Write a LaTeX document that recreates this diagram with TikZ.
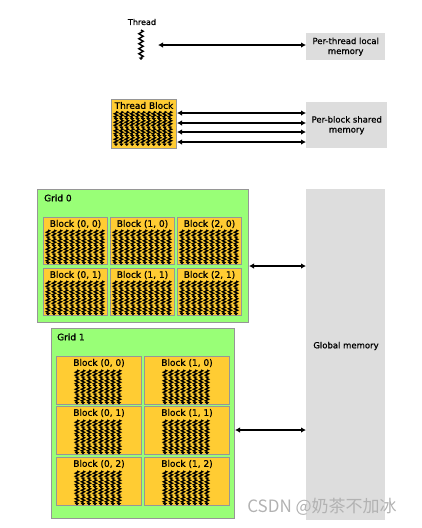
\documentclass[tikz,border=0pt]{standalone}
\usepackage{fontspec}
\setmainfont{DejaVu Sans}[FakeBold=0.8]
\newfontfamily\cjkfont{Noto Sans CJK SC}
\usetikzlibrary{arrows.meta,decorations.pathmorphing}

\definecolor{blockorange}{RGB}{255,204,51}
\definecolor{gridgreen}{RGB}{153,255,119}
\definecolor{memgray}{RGB}{221,221,221}
\definecolor{edgegray}{RGB}{150,150,150}

\tikzset{
  blockbox/.style={draw=edgegray,fill=blockorange,line width=1pt,anchor=north west,inner sep=0pt},
  gridbox/.style={draw=edgegray,fill=gridgreen,line width=1pt,anchor=north west,inner sep=0pt},
  membox/.style={fill=memgray,anchor=north west,inner sep=0pt,align=center,font=\fontsize{8.5}{10}\selectfont},
  boxlabel/.style={font=\fontsize{9}{10}\selectfont,inner sep=0pt},
  thr/.style={line width=1.3pt,decorate,
    decoration={zigzag,amplitude=1.6pt,segment length=3pt,post length=2.5pt},
    -{Triangle[length=2.5pt,width=4.5pt]}},
  memarrow/.style={line width=1.8pt,{Latex[length=5pt,width=5.5pt]}-{Latex[length=5pt,width=5.5pt]}}
}

% rows of threads inside a block: x0, y0, columns, dx
\newcommand\threadrows[4]{%
  \foreach \r in {0,...,3}
    \foreach \c in {1,...,#3}
      \draw[thr] (#1+\c*#4-#4, #2+\r*8.5) -- ++(0,9);
}

\begin{document}
\begin{tikzpicture}[x=1pt,y=-1pt]
  \useasboundingbox (0,0) rectangle (421,528);

  % memories
  \node[membox,minimum width=79pt,minimum height=27pt] (local) at (306,33) {Per-thread local\\memory};
  \node[membox,minimum width=81pt,minimum height=46pt] (shared) at (306,102) {Per-block shared\\memory};
  \node[membox,minimum width=79pt,minimum height=331pt] (global) at (306,189) {};
  \node[font=\fontsize{8.5}{10}\selectfont,inner sep=0pt] at (346,346) {Global memory};

  % single thread
  \node[font=\fontsize{8}{9}\selectfont,inner sep=0pt] (thread) at (142,22) {Thread};
  \draw[thr,line width=1.4pt,decoration={amplitude=2.2pt,segment length=5pt}] (141,30) -- (141,60);
  \coordinate (tend) at (158,45);
  \draw[memarrow] (tend) -- (local.west |- tend);

  % thread block
  \node[blockbox,minimum width=65pt,minimum height=49pt] (tblock) at (111,99) {};
  \node[boxlabel] at ([yshift=-6.5pt]tblock.north) {Thread Block};
  \threadrows{116}{111.5}{11}{5.4}
  \foreach \y in {113,123,132,142}
    \draw[memarrow] (tblock.east |- 0,\y) -- (shared.west |- 0,\y);

  % grid 0
  \node[gridbox,minimum width=211pt,minimum height=133pt] (grid0) at (37,189) {};
  \node[boxlabel,anchor=west] at (44,198) {Grid 0};
  \foreach \i/\x in {0/43,1/110,2/177}
    \foreach \j/\y in {0/217,1/268} {
      \node[blockbox,minimum width=64pt,minimum height=47pt] (g0b\i\j) at (\x,\y) {};
      \node[boxlabel] at ([yshift=-7pt]g0b\i\j.north) {Block (\i, \j)};
      \threadrows{\x+5}{\y+13}{10}{6}
    }
  \draw[memarrow] (grid0.east |- 0,266) -- (global.west |- 0,266);

  % grid 1
  \node[gridbox,minimum width=183pt,minimum height=190pt] (grid1) at (51,328) {};
  \node[boxlabel,anchor=west] at (57,337) {Grid 1};
  \foreach \i/\x in {0/56,1/144}
    \foreach \j/\y in {0/356,1/406,2/457} {
      \node[blockbox,minimum width=85pt,minimum height=48pt] (g1b\i\j) at (\x,\y) {};
      \node[boxlabel] at ([yshift=-7pt]g1b\i\j.north) {Block (\i, \j)};
      \threadrows{\x+21}{\y+14}{8}{6}
    }
  \draw[memarrow] (grid1.east |- 0,430) -- (global.west |- 0,430);

  \node[font=\cjkfont\fontsize{17}{18}\selectfont,text=black!30,inner sep=0pt] (mark) at (322,507) {CSDN @奶茶不加冰};
\end{tikzpicture}
\end{document}
